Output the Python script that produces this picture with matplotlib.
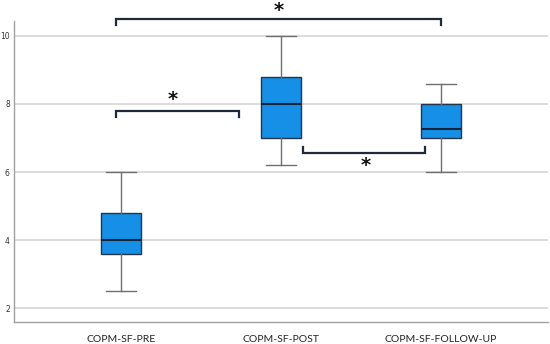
import matplotlib
matplotlib.use("Agg")
import matplotlib.pyplot as plt

categories = ["COPM-SF-PRE", "COPM-SF-POST", "COPM-SF-FOLLOW-UP"]
whislo = [2.5, 6.2, 6.0]
q1 = [3.6, 7.0, 7.0]
med = [4.0, 8.0, 7.25]
q3 = [4.8, 8.8, 8.0]
whishi = [6.0, 10.0, 8.6]
yticks = [2, 4, 6, 8, 10]

# significance brackets: (x left, x right, y, tick direction, star x, star y)
brackets = [(-0.03, 0.737, 7.8, -1, 0.325, 8.12),
            (-0.03, 2.0, 10.5, -1, 0.985, 10.75),
            (1.14, 1.9, 6.55, 1, 1.53, 6.2)]

fig = plt.figure(figsize=(5.5, 3.44), dpi=100)
ax = fig.add_axes([14/550, 1-322/344, 534/550, 301/344])

stats = []
for i, c in enumerate(categories):
    stats.append(dict(label=c, whislo=whislo[i], q1=q1[i], med=med[i], q3=q3[i],
                      whishi=whishi[i], fliers=[]))

ax.bxp(stats, positions=range(len(categories)), widths=0.25, patch_artist=True, showfliers=False,
       boxprops=dict(facecolor="#1590e6", edgecolor="#26344a", linewidth=1.0),
       medianprops=dict(color="#17233a", linewidth=1.5),
       whiskerprops=dict(color="#6e6e6e", linewidth=1.0),
       capprops=dict(color="#6e6e6e", linewidth=1.0), capwidths=0.19, zorder=3)

ax.set_xlim(-0.669, 2.669)
ax.set_ylim(1.59, 10.44)
ax.set_yticks(yticks)
ax.set_yticklabels([str(t) for t in yticks], fontsize=5.5, color="#333333")
ax.set_xticks(range(len(categories)))
ax.set_xticklabels(categories, fontsize=7.5, color="#222222", family=["Lato", "DejaVu Sans"])
ax.tick_params(axis="both", length=0)
ax.tick_params(axis="x", pad=9)
ax.tick_params(axis="y", pad=3)
ax.yaxis.grid(True, color="#d9d9d9", linewidth=1.3, zorder=0)
ax.set_axisbelow(True)
for s in ["top", "right"]:
    ax.spines[s].set_visible(False)
for s in ["left", "bottom"]:
    ax.spines[s].set_color("#a0a0a0")
    ax.spines[s].set_linewidth(1.0)

for xl, xr, y, d, sx, sy in brackets:
    h = 0.18 * d
    ax.plot([xl, xl, xr, xr], [y + h, y, y, y + h], color="#1e2a3a", linewidth=1.6,
            clip_on=False, solid_joinstyle="miter", zorder=4)
    ax.text(sx, sy, "*", ha="center", va="center", fontsize=14, fontweight="bold",
            color="#111111", clip_on=False)

fig.savefig("out.png", dpi=100)
